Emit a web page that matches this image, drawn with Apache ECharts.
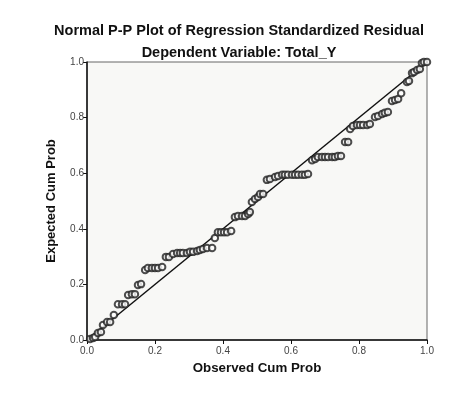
<!DOCTYPE html>
<html>
<head>
<meta charset="utf-8">
<script src="https://cdn.jsdelivr.net/npm/echarts@6/dist/echarts.min.js"></script>
<style>
  html, body { margin: 0; padding: 0; background: #ffffff; }
  #chart { width: 474px; height: 397px; }
</style>
</head>
<body>
<div id="chart"></div>
<script>
// observed cum prob (x) and expected cum prob (y)
const observed = [
  0.009, 0.018, 0.024, 0.032, 0.041, 0.047, 0.059, 0.068, 0.079, 0.091,
  0.103, 0.112, 0.121, 0.132, 0.141, 0.150, 0.159, 0.171, 0.179, 0.191,
  0.200, 0.209, 0.221, 0.232, 0.241, 0.253, 0.265, 0.274, 0.282, 0.294,
  0.303, 0.312, 0.324, 0.332, 0.341, 0.353, 0.368, 0.376, 0.385, 0.394,
  0.403, 0.412, 0.424, 0.435, 0.444, 0.456, 0.465, 0.474, 0.479, 0.485,
  0.494, 0.503, 0.509, 0.518, 0.529, 0.538, 0.553, 0.562, 0.574, 0.582,
  0.591, 0.603, 0.612, 0.621, 0.632, 0.641, 0.650, 0.662, 0.671, 0.679,
  0.691, 0.700, 0.709, 0.721, 0.729, 0.738, 0.747, 0.759, 0.768, 0.774,
  0.782, 0.794, 0.803, 0.812, 0.824, 0.832, 0.847, 0.856, 0.868, 0.876,
  0.885, 0.897, 0.906, 0.915, 0.924, 0.941, 0.947, 0.956, 0.962, 0.971,
  0.979, 0.985, 0.991, 1.000
];
const expected = [
  0.004, 0.007, 0.011, 0.025, 0.029, 0.054, 0.065, 0.065, 0.090, 0.129,
  0.129, 0.129, 0.162, 0.165, 0.165, 0.198, 0.201, 0.252, 0.259, 0.259,
  0.259, 0.259, 0.263, 0.299, 0.299, 0.309, 0.313, 0.313, 0.313, 0.313,
  0.317, 0.317, 0.320, 0.324, 0.327, 0.331, 0.331, 0.367, 0.388, 0.388,
  0.388, 0.388, 0.392, 0.442, 0.446, 0.446, 0.446, 0.453, 0.460, 0.496,
  0.507, 0.514, 0.525, 0.525, 0.576, 0.579, 0.586, 0.590, 0.594, 0.594,
  0.594, 0.594, 0.594, 0.594, 0.594, 0.594, 0.597, 0.647, 0.651, 0.658,
  0.658, 0.658, 0.658, 0.658, 0.658, 0.662, 0.662, 0.712, 0.712, 0.759,
  0.770, 0.773, 0.773, 0.773, 0.773, 0.777, 0.802, 0.806, 0.813, 0.817,
  0.820, 0.860, 0.863, 0.867, 0.888, 0.928, 0.932, 0.960, 0.964, 0.971,
  0.975, 0.996, 1.000, 1.000
];
// reference diagonal
const diagonal = [[0, 0], [1, 1]];

const points = observed.map((x, i) => [x, expected[i]]);

let chart = echarts.init(document.getElementById('chart'));
chart.setOption({
  animation: false,
  backgroundColor: '#ffffff',
  title: [
    {
      text: 'Normal P-P Plot of Regression Standardized Residual',
      left: 234,
      top: 18,
      textAlign: 'center',
      textStyle: { fontFamily: 'Liberation Sans', fontSize: 14.5, fontWeight: 'bold', color: '#111' }
    },
    {
      text: 'Dependent Variable: Total_Y',
      left: 234,
      top: 40,
      textAlign: 'center',
      textStyle: { fontFamily: 'Liberation Sans', fontSize: 14.5, fontWeight: 'bold', color: '#111' }
    }
  ],
  grid: {
    left: 87,
    right: 47,
    top: 62,
    bottom: 57,
    show: true,
    backgroundColor: '#f8f8f6',
    borderColor: '#666',
    borderWidth: 1
  },
  xAxis: {
    type: 'value',
    min: 0,
    max: 1,
    interval: 0.2,
    name: 'Observed Cum Prob',
    nameLocation: 'middle',
    nameGap: 22,
    nameTextStyle: { fontFamily: 'Liberation Sans', fontSize: 13.3, fontWeight: 'bold', color: '#111' },
    axisLine: { lineStyle: { color: '#111', width: 1.5 } },
    axisTick: { length: 4, lineStyle: { color: '#111' } },
    axisLabel: {
      margin: 6,
      fontFamily: 'Liberation Sans', fontSize: 10, color: '#444',
      formatter: v => v.toFixed(1)
    },
    splitLine: { show: false }
  },
  yAxis: {
    type: 'value',
    min: 0,
    max: 1,
    interval: 0.2,
    name: 'Expected Cum Prob',
    nameLocation: 'middle',
    nameGap: 29,
    nameTextStyle: { fontFamily: 'Liberation Sans', fontSize: 13, fontWeight: 'bold', color: '#111' },
    axisLine: { lineStyle: { color: '#111', width: 1.5 } },
    axisTick: { length: 4, lineStyle: { color: '#111' } },
    axisLabel: {
      margin: 3,
      fontFamily: 'Liberation Sans', fontSize: 10, color: '#444',
      formatter: v => v.toFixed(1)
    },
    splitLine: { show: false }
  },
  series: [
    {
      type: 'line',
      data: diagonal,
      symbol: 'none',
      lineStyle: { color: '#111', width: 1.5 },
      z: 2
    },
    {
      type: 'scatter',
      data: points,
      symbol: 'emptyCircle',
      symbolSize: 6.5,
      itemStyle: { color: '#222', borderWidth: 1 },
      z: 3
    }
  ]
});
</script>
</body>
</html>
